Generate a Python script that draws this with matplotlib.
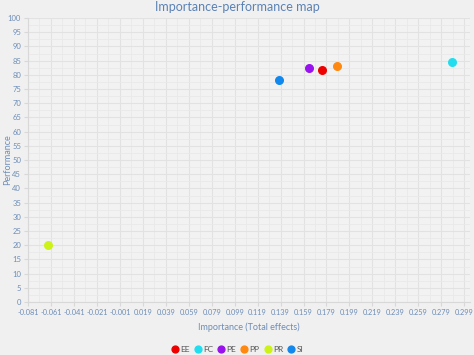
import numpy as np
import matplotlib
matplotlib.use("Agg")
import matplotlib.pyplot as plt
from matplotlib.ticker import MultipleLocator, FixedLocator

plt.rcParams["font.family"] = ["Lato", "DejaVu Sans"]

names = ["EE", "FC", "PE", "PP", "PR", "SI"]
importance = [0.175, 0.288, 0.164, 0.188, -0.064, 0.138]
performance = [81.7, 84.4, 82.3, 83.2, 19.9, 78.0]
colors = ["#ee0000", "#22ddee", "#9911ee", "#ff8811", "#ccf21a", "#1188ee"]

xticks = [-0.081 + 0.02 * i for i in range(20)]
xlabels = ["%.3f" % v for v in xticks]

txt = "#6d8db8"
W, H = 474, 355
fig = plt.figure(figsize=(W / 100, H / 100), dpi=100, facecolor="#f0f0f0")
ax = fig.add_axes([28 / W, 1 - 302 / H, (470 - 28) / W, (302 - 18) / H])
ax.set_facecolor("#f2f2f2")

for i in range(len(names)):
    ax.scatter(importance[i], performance[i], s=30, color=colors[i], label=names[i], zorder=3)

ax.set_xlim(-0.081, 0.304)
ax.set_ylim(0, 100)
ax.xaxis.set_major_locator(FixedLocator(xticks))
ax.set_xticklabels(xlabels)
ax.xaxis.set_minor_locator(FixedLocator([v + 0.01 for v in xticks]))
ax.yaxis.set_major_locator(MultipleLocator(5))
ax.yaxis.set_minor_locator(MultipleLocator(2.5))
ax.grid(True, which="major", color="#e2e2e2", linewidth=0.8)
ax.grid(True, which="minor", color="#e9e9e9", linewidth=0.6)
ax.set_axisbelow(True)
ax.tick_params(colors=txt, labelsize=5.5, length=3, pad=2)
ax.tick_params(axis="x", labelsize=5.3)
ax.tick_params(which="minor", length=0)
ax.tick_params(axis="x", color="#d8d8d8")
ax.tick_params(axis="y", color="#d8d8d8")
for s in ["top", "right"]:
    ax.spines[s].set_visible(False)
for s in ["left", "bottom"]:
    ax.spines[s].set_color("#d8d8d8")

ax.set_xlabel("Importance (Total effects)", color=txt, fontsize=6.5, labelpad=5)
ax.set_ylabel("Performance", color=txt, fontsize=6.5)
ax.yaxis.set_label_coords(-16 / 442, 0.5)
fig.text(0.5, 1 - 7 / H, "Importance-performance map", color="#5b82b5",
         fontsize=9, ha="center", va="center")

fig.legend(loc="center", bbox_to_anchor=(0.5, 1 - 349 / H), ncol=6, frameon=False,
           fontsize=6, labelcolor="#555555", handletextpad=0.1, columnspacing=0.5,
           markerscale=0.9, handlelength=1.0)

fig.savefig("out.png", dpi=100, facecolor=fig.get_facecolor())
